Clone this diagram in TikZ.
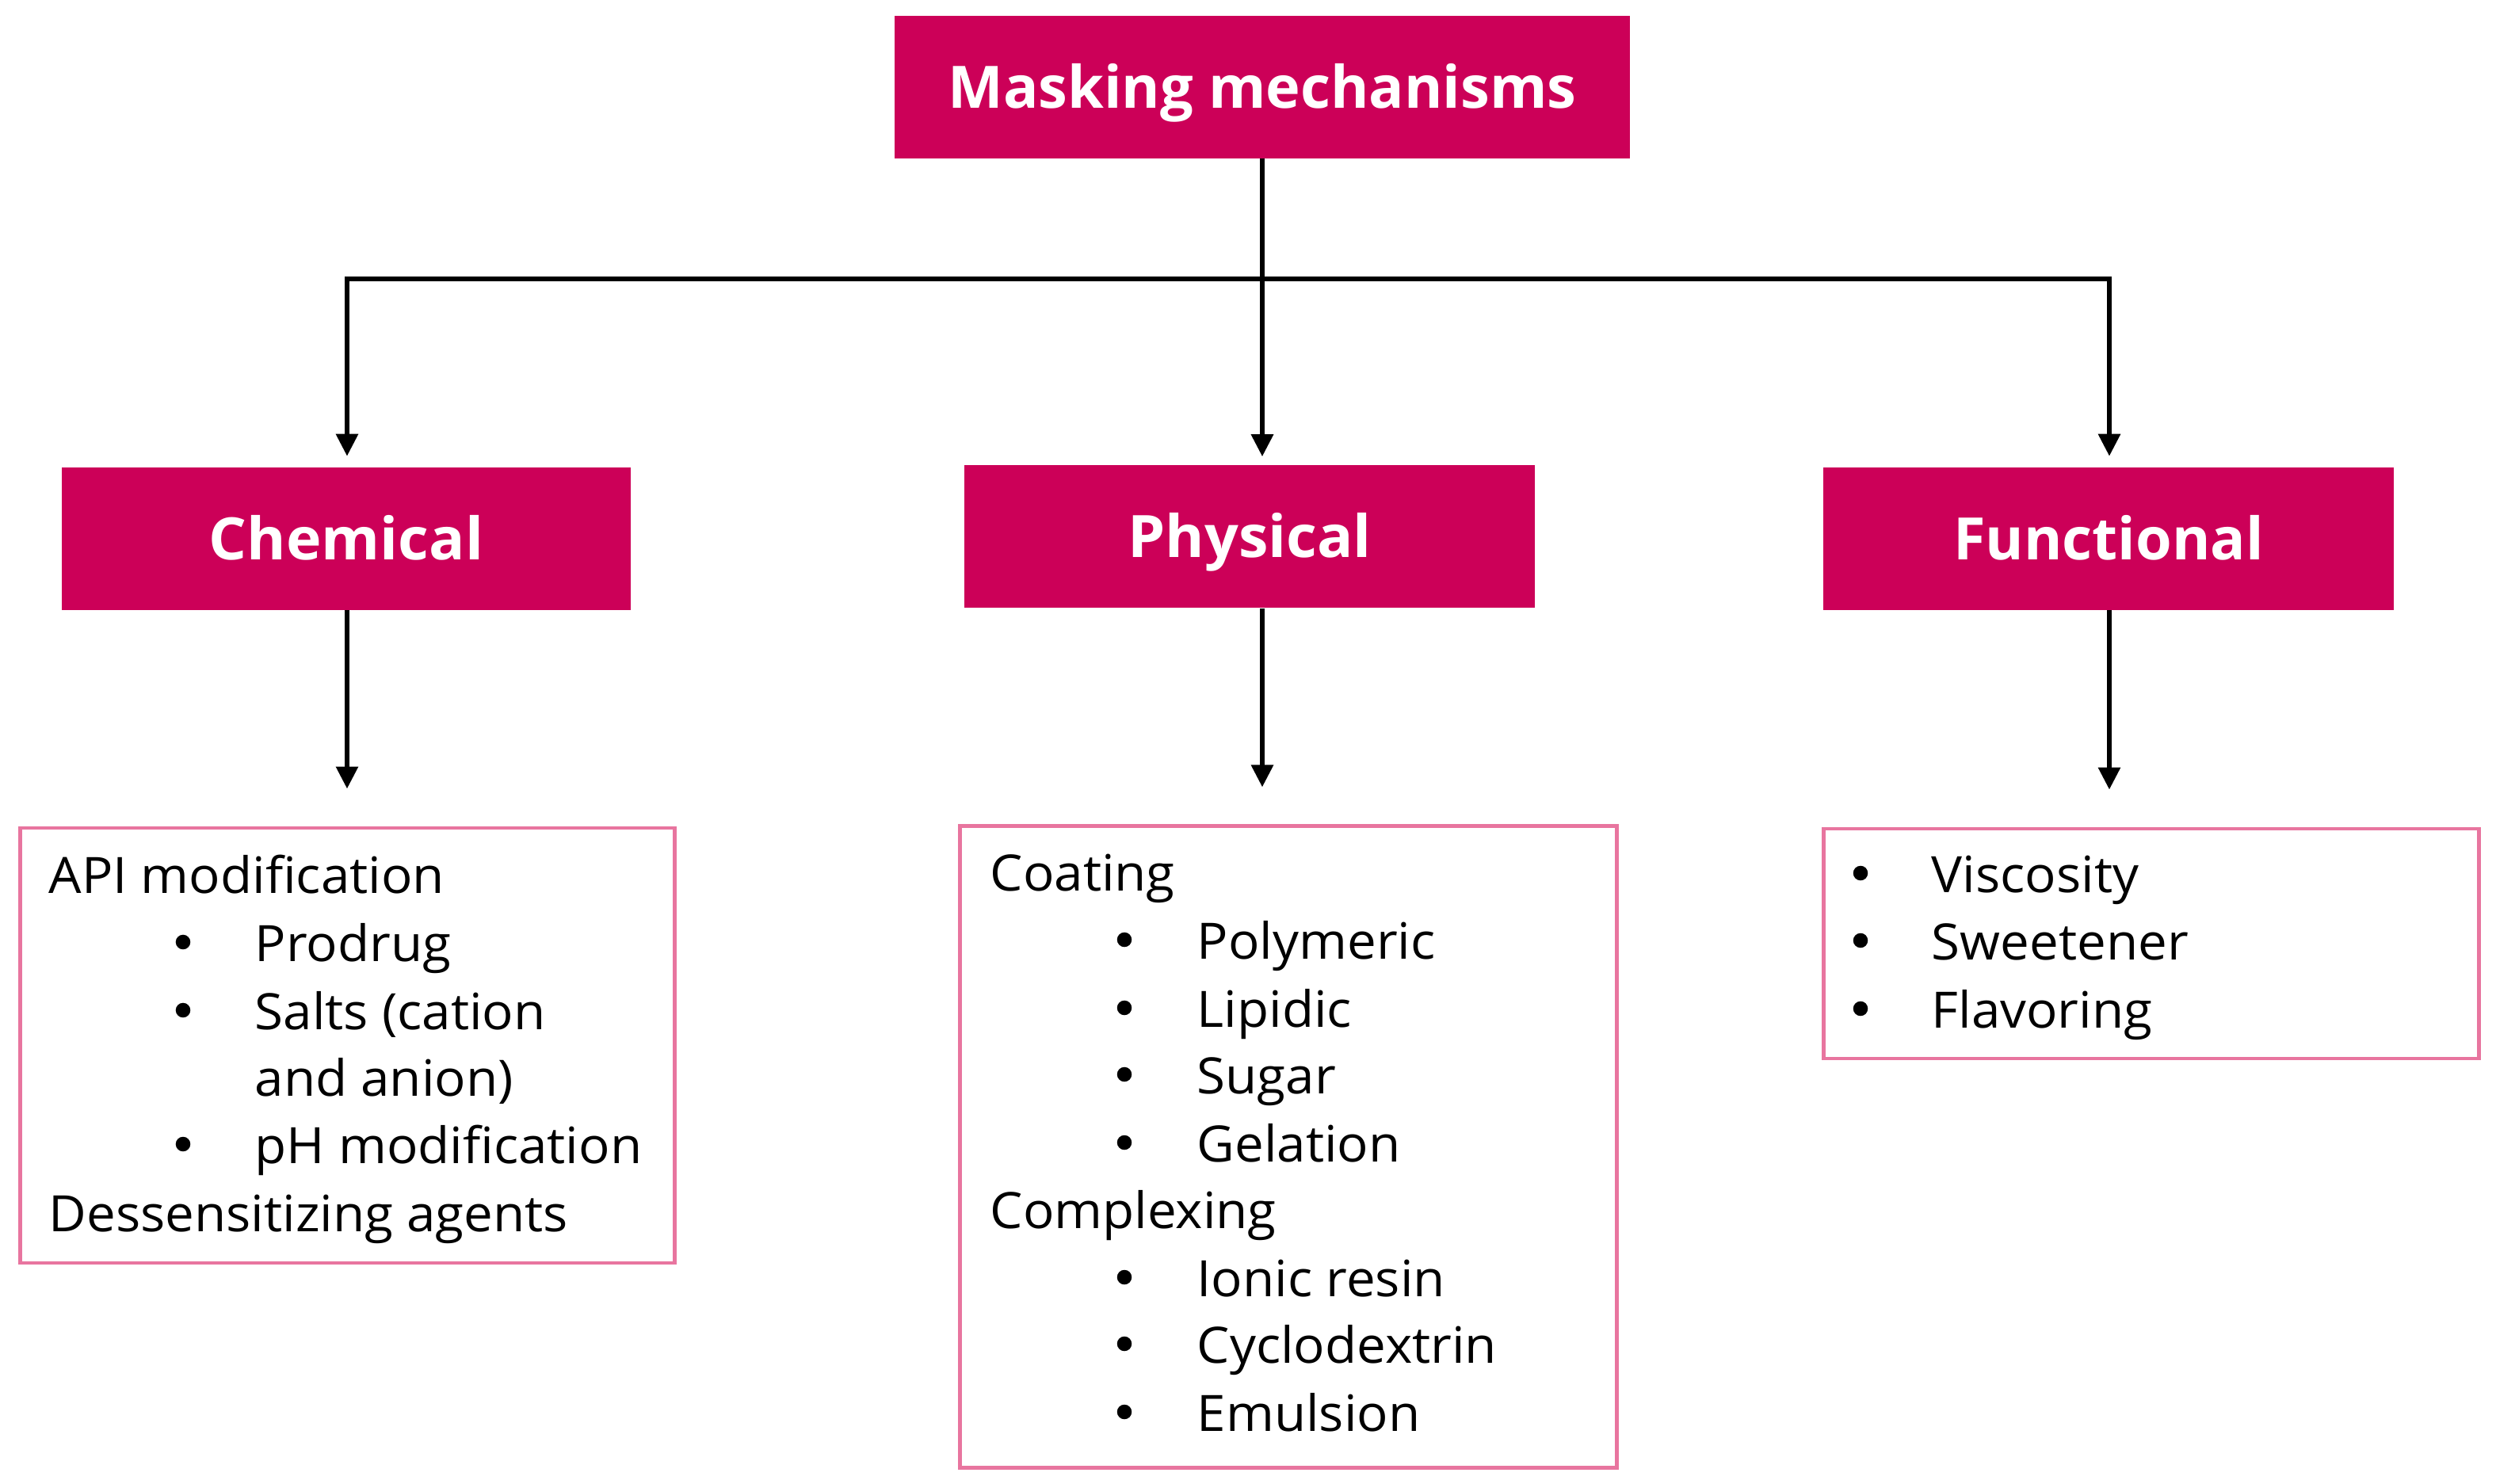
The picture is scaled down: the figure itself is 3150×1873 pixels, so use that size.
\documentclass[tikz,border=0pt]{standalone}
\usepackage{fontspec}
\setmainfont{Open Sans}
\newfontfamily\bodyfont{Open Sans}[FakeStretch=1.035]
\newfontfamily\hdrfont{Open Sans}[FakeStretch=1.02]
\usetikzlibrary{arrows.meta}
\definecolor{hdrfill}{HTML}{CC0058}
\definecolor{listborder}{HTML}{E8759F}
\begin{document}
\begin{tikzpicture}[x=0.01cm,y=-0.01cm,
  hdr/.style={fill=hdrfill,draw=none,inner sep=0pt,text=white,
    font=\fontsize{21}{25}\selectfont\bfseries,
    text height=15pt,text depth=0pt},
  listbox/.style={draw=listborder,line width=1.3pt,fill=white,inner sep=0pt},
  ln/.style={anchor=base west,inner sep=0pt,font=\bodyfont\fontsize{18}{22}\selectfont},
  bul/.style={circle,fill=black,inner sep=0pt,minimum size=0.185cm},
  conn/.style={line width=1.7pt,black},
  arr/.style={conn,-{Triangle[length=0.28cm,width=0.27cm]}}
]
\useasboundingbox[fill=white] (0,0) rectangle (3150,1873);

% headers
\node[hdr,minimum width=9.28cm,minimum height=1.79cm] (top) at (1593,110) {Masking mechanisms};
\node[hdr,minimum width=7.18cm,minimum height=1.79cm,font=\hdrfont\fontsize{21}{25}\selectfont\bfseries] (chem) at (437,680) {Chemical};
\node[hdr,minimum width=7.20cm,minimum height=1.80cm,font=\hdrfont\fontsize{21}{25}\selectfont\bfseries] (phys) at (1577,677) {Physical};
\node[hdr,minimum width=7.19cm,minimum height=1.79cm] (func) at (2661,680) {Functional};

% list boxes
\node[listbox,minimum width=8.25cm,minimum height=5.49cm] (chemlist) at (438.5,1319.5) {};
\node[listbox,minimum width=8.28cm,minimum height=8.09cm] (physlist) at (1626,1447.5) {};
\node[listbox,minimum width=8.26cm,minimum height=2.90cm] (funclist) at (2715,1191) {};

% junction
\coordinate (j) at (1593,352);
\coordinate (jl) at (438,352);
\coordinate (jr) at (2662,352);

% connectors
\draw[conn] (top.south) -- (j);
\draw[conn,line cap=rect] (jl) -- (jr);
\draw[arr,shorten >=0.14cm] (jl) -- (jl |- chem.north);
\draw[arr,shorten >=0.10cm] (j) -- (j |- phys.north);
\draw[arr,shorten >=0.14cm] (jr) -- (jr |- func.north);
\draw[arr,shorten >=0.47cm] (jl |- chem.south) -- (jl |- chemlist.north);
\draw[arr,shorten >=0.47cm] (j |- phys.south) -- (j |- physlist.north);
\draw[arr,shorten >=0.47cm] (jr |- func.south) -- (jr |- funclist.north);

% chemical list
\node[ln] (c1) at (61,1127) {API modification};
\node[bul] (cb1) at (231,1189) {};
\node[ln] (c2) at (321,1213) {Prodrug};
\node[bul] (cb2) at (231,1275) {};
\node[ln] (c3) at (321,1299) {Salts (cation};
\node[ln] (c4) at (321,1383) {and anion)};
\node[bul] (cb3) at (231,1444) {};
\node[ln] (c5) at (321,1468) {pH modification};
\node[ln] (c6) at (61,1554) {Dessensitizing agents};

% physical list
\node[ln] (p1) at (1249,1124) {Coating};
\node[bul] (pb1) at (1419,1186) {};
\node[ln] (p2) at (1510,1210) {Polymeric};
\node[bul] (pb2) at (1419,1272) {};
\node[ln] (p3) at (1510,1296) {Lipidic};
\node[bul] (pb3) at (1419,1356) {};
\node[ln] (p4) at (1510,1380) {Sugar};
\node[bul] (pb4) at (1419,1442) {};
\node[ln] (p5) at (1510,1466) {Gelation};
\node[ln] (p6) at (1249,1550) {Complexing};
\node[bul] (pb5) at (1419,1612) {};
\node[ln] (p7) at (1510,1636) {Ionic resin};
\node[bul] (pb6) at (1419,1696) {};
\node[ln] (p8) at (1510,1720) {Cyclodextrin};
\node[bul] (pb7) at (1419,1782) {};
\node[ln] (p9) at (1510,1806) {Emulsion};

% functional list
\node[bul] (fb1) at (2348,1102) {};
\node[ln] (f1) at (2437,1126) {Viscosity};
\node[bul] (fb2) at (2348,1187) {};
\node[ln] (f2) at (2437,1211) {Sweetener};
\node[bul] (fb3) at (2348,1273) {};
\node[ln] (f3) at (2437,1297) {Flavoring};
\end{tikzpicture}
\end{document}
